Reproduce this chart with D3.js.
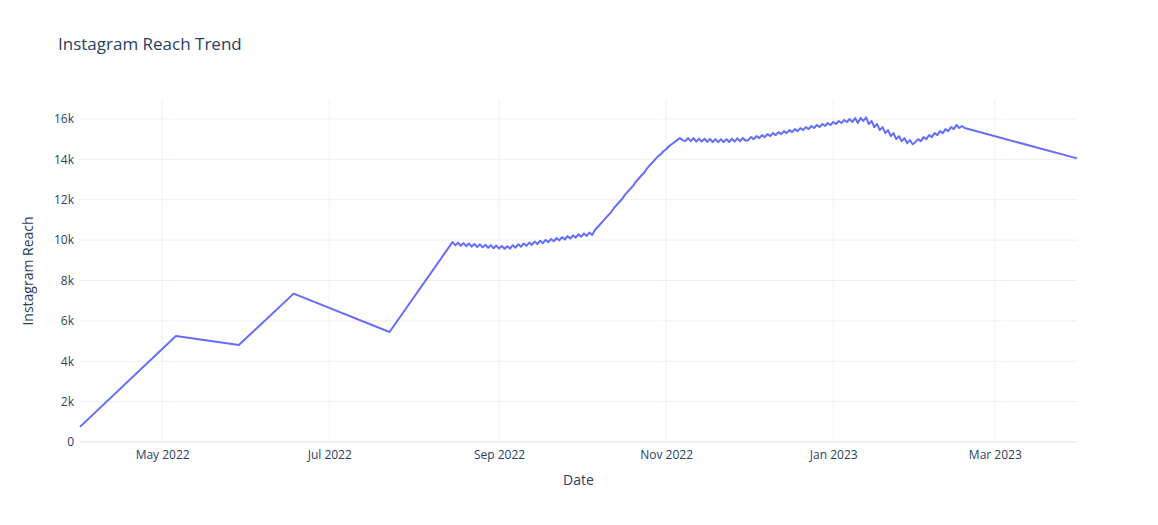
<!DOCTYPE html>
<html><head><meta charset="utf-8">
<script src="https://cdn.jsdelivr.net/npm/d3@7/dist/d3.min.js"></script>
<style>body{margin:0;background:#fff}text{font-family:"Open Sans",sans-serif}</style>
</head><body><svg id="c" width="1158" height="525"></svg>
<script>
// sparse early points
const earlyDates = ["2022-04-01","2022-05-06","2022-05-29","2022-06-18","2022-07-23"];
const earlyReach = [750,5250,4800,7350,5450];
// daily values from this date
const dailyStart = "2022-08-15";
const dailyReach = [
 9900,9750,9870,9720,9850,9700,9830,9680,9810,9660,9790,9640,9770,9620,9750,9600,9730,9580,9710,9570,
 9700,9580,9745,9625,9790,9670,9835,9715,9880,9760,9925,9805,9970,9850,10015,9895,10060,9940,10105,9985,10150,10030,10195,10075,10240,10120,10285,10165,10330,10210,10375,10255,10500,
 10650,10800,10950,11100,11250,11400,11600,11750,11900,12050,12250,12400,12550,12700,12900,13050,13200,13350,13550,13700,13850,14000,14150,14250,14400,14500,14650,14750,14850,14950,15050,14950,
 14900,15050,14900,15050,14880,15030,14880,15020,14870,15010,14860,15000,14850,15000,14850,15000,14860,15020,14880,15040,14900,15060,14920,
 14960,15110,15000,15150,15050,15200,15100,15250,15150,15300,15200,15350,15250,15400,15300,15450,15350,15500,15400,15550,15450,15600,15500,15650,15550,15700,15600,15750,15650,15800,15700,15850,15750,15900,15800,15950,15850,16000,15850,16050,15800,16050,15900,16080,
 15750,15900,15600,15750,15450,15600,15300,15450,15150,15300,15000,15150,14900,15050,14800,14950,14750,14850,
 15000,14900,15100,15000,15200,15100,15300,15200,15400,15300,15500,15400,15600,15500,15700,15550,15650,15550
];
const lateDates = ["2023-03-31"];
const lateReach = [14050];
const yTicks = [0,2000,4000,6000,8000,10000,12000,14000,16000];

const parse = d3.timeParse("%Y-%m-%d");
const data = [];
earlyDates.forEach((d,i)=>data.push({date:parse(d),v:earlyReach[i]}));
const ds = parse(dailyStart);
dailyReach.forEach((v,i)=>data.push({date:d3.timeDay.offset(ds,i),v}));
lateDates.forEach((d,i)=>data.push({date:parse(d),v:lateReach[i]}));

const svg = d3.select("#c");
const L=80,R=1077,T=100,B=442;
const x = d3.scaleTime().domain([parse("2022-04-01"),parse("2023-03-31")]).range([L,R]);
const y = d3.scaleLinear().domain([0,16940]).range([B,T]);

const xt = [parse("2022-05-01"),parse("2022-07-01"),parse("2022-09-01"),parse("2022-11-01"),parse("2023-01-01"),parse("2023-03-01")];
svg.append("g").selectAll("line").data(xt).join("line")
 .attr("x1",d=>x(d)).attr("x2",d=>x(d)).attr("y1",T).attr("y2",B).attr("stroke","#ebf0f8");
svg.append("g").selectAll("line").data(yTicks.slice(1)).join("line")
 .attr("x1",L).attr("x2",R).attr("y1",d=>y(d)).attr("y2",d=>y(d)).attr("stroke","#ebf0f8");
svg.append("line").attr("x1",L).attr("x2",R).attr("y1",B).attr("y2",B).attr("stroke","#ebf0f8").attr("stroke-width",2);

const xa = svg.append("g").attr("transform",`translate(0,${B})`)
 .call(d3.axisBottom(x).tickValues(xt).tickFormat(d3.timeFormat("%b %Y")).tickSize(0).tickPadding(8));
const ya = svg.append("g").attr("transform",`translate(${L},0)`)
 .call(d3.axisLeft(y).tickValues(yTicks).tickFormat(d=>d===0?"0":(d/1000)+"k").tickSize(0).tickPadding(6));
[xa,ya].forEach(a=>{a.select(".domain").remove();a.selectAll("text").attr("fill","#2a3f5f").style("font-size","12px").style("font-family","'Open Sans',sans-serif");});
ya.selectAll("text").attr("dy","0.32em");

svg.append("path").datum(data).attr("fill","none").attr("stroke","#636efa").attr("stroke-width",2)
 .attr("stroke-linejoin","round")
 .attr("d",d3.line().x(d=>x(d.date)).y(d=>y(d.v)));

svg.append("text").attr("x",58).attr("y",50).attr("fill","#2a3f5f").style("font-size","17px").text("Instagram Reach Trend");
svg.append("text").attr("x",(L+R)/2).attr("y",485).attr("text-anchor","middle").attr("fill","#2a3f5f").style("font-size","14px").text("Date");
svg.append("text").attr("transform",`translate(33,${(T+B)/2}) rotate(-90)`).attr("text-anchor","middle").attr("fill","#2a3f5f").style("font-size","14px").text("Instagram Reach");
</script></body></html>
